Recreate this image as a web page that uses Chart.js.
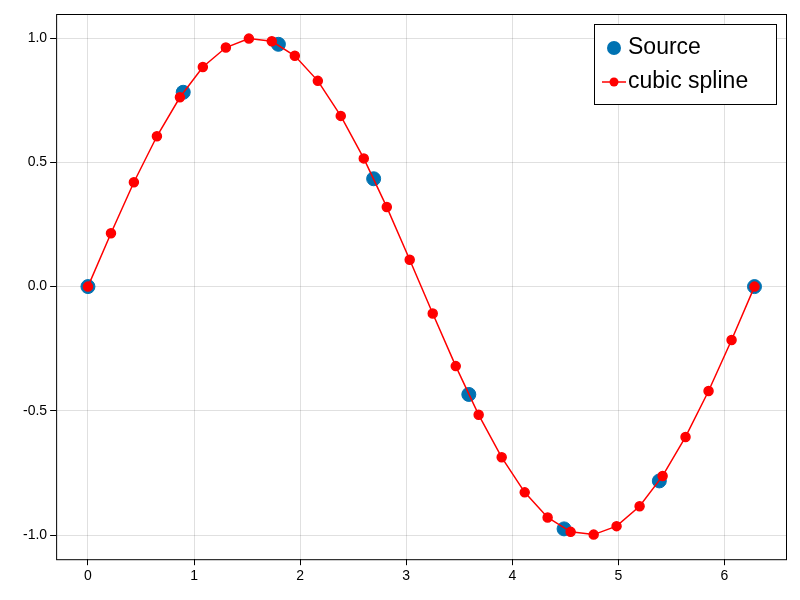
<!DOCTYPE html>
<html><head><meta charset="utf-8">
<script src="https://cdn.jsdelivr.net/npm/chart.js@4"></script>
<style>html,body{margin:0;background:#fff}#w{width:800px;height:600px}</style>
</head><body><div id="w"><canvas id="c"></canvas></div>
<script>
const sourceX=[0,0.898,1.795,2.693,3.590,4.488,5.386,6.283];
const sourceY=[0,0.782,0.975,0.434,-0.434,-0.975,-0.782,0];
const splineX=[0,0.217,0.433,0.650,0.867,1.083,1.300,1.517,1.733,1.950,2.167,2.383,2.600,2.817,3.033,3.250,3.467,3.683,3.900,4.117,4.333,4.550,4.767,4.983,5.200,5.417,5.633,5.850,6.067,6.283];
const splineY=[0,0.215,0.420,0.605,0.762,0.884,0.962,0.998,0.987,0.929,0.828,0.687,0.516,0.320,0.108,-0.108,-0.320,-0.516,-0.687,-0.828,-0.929,-0.987,-0.998,-0.964,-0.884,-0.762,-0.605,-0.420,-0.215,0];
const xTicks=[0,1,2,3,4,5,6];
const yTicks=[-1,-0.5,0,0.5,1];
const legendItems=[{label:'Source',kind:'dot',color:'#0072b2'},{label:'cubic spline',kind:'line',color:'#ff0000'}];
const legendPlugin={id:'lg',afterDraw(ch){const c=ch.ctx,a=ch.chartArea;const w=182,h=80,x=a.right-10-w,y=a.top+10;
c.save();c.fillStyle='#fff';c.strokeStyle='#000';c.lineWidth=1;c.fillRect(x,y,w,h);c.strokeRect(x+0.5,y+0.5,w,h);
c.font='23px "Liberation Sans", Arial';c.textBaseline='middle';
legendItems.forEach((it,i)=>{const cy=y+24+i*34,cx=x+20;c.fillStyle=it.color;
if(it.kind==='dot'){c.beginPath();c.arc(cx,cy,7,0,7);c.fill();}
else{c.strokeStyle=it.color;c.lineWidth=1.5;c.beginPath();c.moveTo(cx-12,cy);c.lineTo(cx+12,cy);c.stroke();c.beginPath();c.arc(cx,cy,4.5,0,7);c.fill();}
c.fillStyle='#000';c.fillText(it.label,x+34,cy);});c.restore();}};
const frame={id:'fr',afterDraw(ch){const c=ch.ctx,a=ch.chartArea;c.save();c.strokeStyle='#000';c.lineWidth=1;c.strokeRect(a.left+0.5,a.top+0.5,a.right-a.left,a.bottom-a.top);c.restore();}};
new Chart(document.getElementById('c'),{type:'scatter',
data:{datasets:[
{label:'Source',order:2,data:sourceX.map((x,i)=>({x,y:sourceY[i]})),backgroundColor:'#0072b2',borderColor:'#0072b2',pointRadius:7,showLine:false},
{label:'cubic spline',order:1,data:splineX.map((x,i)=>({x,y:splineY[i]})),backgroundColor:'#ff0000',borderColor:'#ff0000',pointRadius:4.5,borderWidth:1.5,showLine:true}]},
options:{responsive:true,maintainAspectRatio:false,animation:false,
layout:{padding:{top:14,right:14,bottom:12,left:20}},
plugins:{legend:{display:false},tooltip:{enabled:false}},
scales:{x:{type:'linear',min:-0.3,max:6.58,afterBuildTicks:s=>{s.ticks=xTicks.map(v=>({value:v}))},
grid:{color:'rgba(0,0,0,0.12)',drawTicks:true,tickColor:'#000',tickLength:6},border:{display:false},
ticks:{color:'#000',font:{size:14,family:'"Liberation Sans", Arial'},callback:v=>String(v)}},
y:{type:'linear',min:-1.097,max:1.097,afterBuildTicks:s=>{s.ticks=yTicks.map(v=>({value:v}))},
grid:{color:'rgba(0,0,0,0.12)',tickColor:'#000',tickLength:6},border:{display:false},
ticks:{color:'#000',font:{size:14,family:'"Liberation Sans", Arial'},callback:v=>v.toFixed(1)}}}},
plugins:[frame,legendPlugin]});
</script></body></html>
